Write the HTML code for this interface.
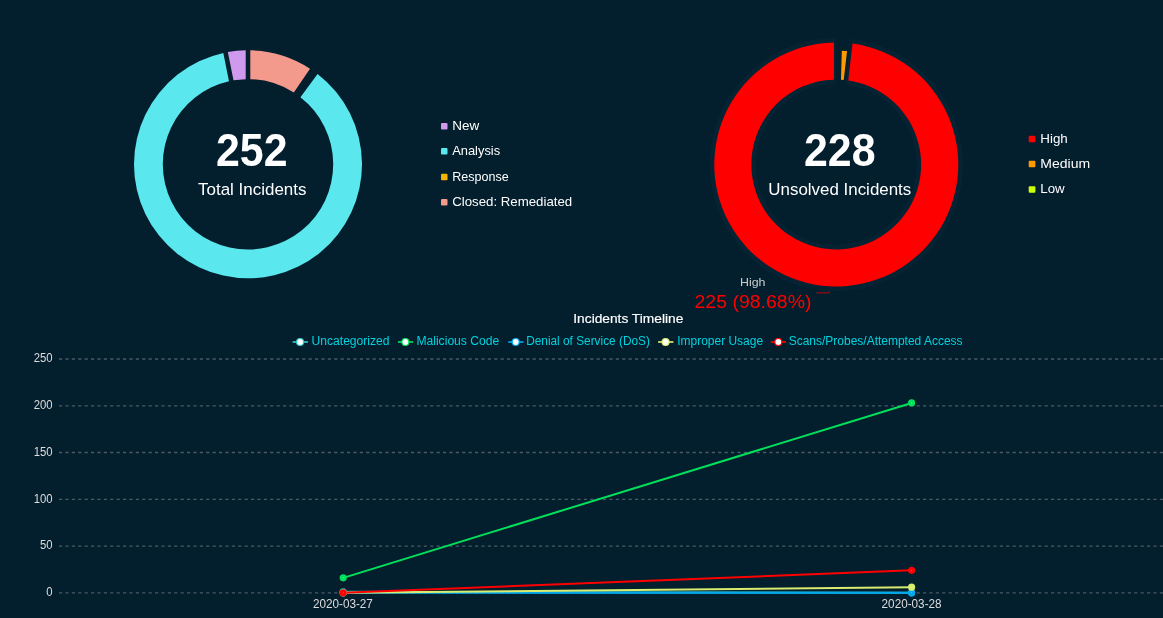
<!DOCTYPE html>
<html><head><meta charset="utf-8"><style>
html,body{margin:0;padding:0;background:#031e2d;width:1163px;height:618px;overflow:hidden}
svg{display:block;font-family:"Liberation Sans",sans-serif;will-change:transform}
</style></head><body>
<svg width="1163" height="618" viewBox="0 0 1163 618">
<rect width="1163" height="618" fill="#031e2d"/>
<path d="M227.82,52.10 A114.0,114.0 0 0 1 245.70,50.32 L245.70,79.13 A85.2,85.2 0 0 0 233.49,80.34 Z" fill="#cf9aee"/>
<path d="M250.30,50.32 A114.0,114.0 0 0 1 310.00,68.63 L293.84,92.49 A85.2,85.2 0 0 0 250.30,79.13 Z" fill="#f39a8d"/>
<path d="M317.57,73.99 A114.0,114.0 0 1 1 223.31,53.00 L228.98,81.25 A85.2,85.2 0 1 0 300.45,97.16 Z" fill="#5ae8ee"/>
<path d="M850.82,38.54 A126.8,126.8 0 1 1 836.25,37.70 L836.25,84.40 A80.10000000000001,80.10000000000001 0 1 0 845.46,84.93 Z" fill="#052333"/>
<path d="M852.55,43.59 A122.0,122.0 0 1 1 833.95,42.52 L833.95,79.63 A84.9,84.9 0 1 0 848.29,80.46 Z" fill="#ff0000"/>
<path d="M841.83,50.64 A114.0,114.0 0 0 1 847.07,51.01 L843.72,79.93 A84.9,84.9 0 0 0 840.99,79.73 Z" fill="#ff9900"/>
<line x1="59" y1="359.0" x2="1163" y2="359.0" stroke="#4a5a66" stroke-width="1.3" stroke-dasharray="3.2 3.2"/>
<line x1="59" y1="405.8" x2="1163" y2="405.8" stroke="#4a5a66" stroke-width="1.3" stroke-dasharray="3.2 3.2"/>
<line x1="59" y1="452.5" x2="1163" y2="452.5" stroke="#4a5a66" stroke-width="1.3" stroke-dasharray="3.2 3.2"/>
<line x1="59" y1="499.3" x2="1163" y2="499.3" stroke="#4a5a66" stroke-width="1.3" stroke-dasharray="3.2 3.2"/>
<line x1="59" y1="546.1" x2="1163" y2="546.1" stroke="#4a5a66" stroke-width="1.3" stroke-dasharray="3.2 3.2"/>
<line x1="59" y1="592.8" x2="1163" y2="592.8" stroke="#4a5a66" stroke-width="1.3" stroke-dasharray="3.2 3.2"/>
<line x1="343.2" y1="591.86" x2="911.6" y2="592.80" stroke="#2ec7c9" stroke-width="2"/>
<line x1="343.2" y1="577.84" x2="911.6" y2="402.95" stroke="#00e05a" stroke-width="2"/>
<line x1="343.2" y1="592.80" x2="911.6" y2="592.80" stroke="#00a8f0" stroke-width="2"/>
<line x1="343.2" y1="592.80" x2="911.6" y2="587.19" stroke="#d8ec70" stroke-width="2"/>
<line x1="343.2" y1="592.80" x2="911.6" y2="570.36" stroke="#ff0000" stroke-width="2"/>
<circle cx="343.2" cy="591.86" r="2.0" fill="#ffffff" stroke="#2ec7c9" stroke-width="3.2"/>
<circle cx="911.6" cy="592.80" r="2.0" fill="#ffffff" stroke="#2ec7c9" stroke-width="3.2"/>
<circle cx="343.2" cy="577.84" r="2.0" fill="#ffffff" stroke="#00e05a" stroke-width="3.2"/>
<circle cx="911.6" cy="402.95" r="2.0" fill="#ffffff" stroke="#00e05a" stroke-width="3.2"/>
<circle cx="343.2" cy="592.80" r="2.0" fill="#ffffff" stroke="#00a8f0" stroke-width="3.2"/>
<circle cx="911.6" cy="592.80" r="2.0" fill="#ffffff" stroke="#00a8f0" stroke-width="3.2"/>
<circle cx="343.2" cy="592.80" r="2.0" fill="#ffffff" stroke="#d8ec70" stroke-width="3.2"/>
<circle cx="911.6" cy="587.19" r="2.0" fill="#ffffff" stroke="#d8ec70" stroke-width="3.2"/>
<circle cx="343.2" cy="592.80" r="2.0" fill="#ffffff" stroke="#ff0000" stroke-width="3.2"/>
<circle cx="911.6" cy="570.36" r="2.0" fill="#ffffff" stroke="#ff0000" stroke-width="3.2"/>
<text x="216.0" y="165.9" font-size="46" fill="#ffffff" font-weight="bold" text-anchor="start" textLength="71.5" lengthAdjust="spacingAndGlyphs">252</text>
<text x="198.0" y="195.0" font-size="16.3" fill="#ffffff" font-weight="normal" text-anchor="start" textLength="108.5" lengthAdjust="spacingAndGlyphs">Total Incidents</text>
<text x="804.0" y="165.9" font-size="46" fill="#ffffff" font-weight="bold" text-anchor="start" textLength="71.5" lengthAdjust="spacingAndGlyphs">228</text>
<text x="768.3" y="195.0" font-size="16.3" fill="#ffffff" font-weight="normal" text-anchor="start" textLength="143" lengthAdjust="spacingAndGlyphs">Unsolved Incidents</text>
<rect x="441" y="123.0" width="6.5" height="6.5" rx="1" fill="#cf9aee"/>
<text x="452.2" y="129.9" font-size="13.5" fill="#ffffff" font-weight="normal" text-anchor="start" textLength="27" lengthAdjust="spacingAndGlyphs">New</text>
<rect x="441" y="148.1" width="6.5" height="6.5" rx="1" fill="#5ae8ee"/>
<text x="452.2" y="155.0" font-size="13.5" fill="#ffffff" font-weight="normal" text-anchor="start" textLength="48" lengthAdjust="spacingAndGlyphs">Analysis</text>
<rect x="441" y="173.7" width="6.5" height="6.5" rx="1" fill="#f5b400"/>
<text x="452.2" y="180.6" font-size="13.5" fill="#ffffff" font-weight="normal" text-anchor="start" textLength="56.5" lengthAdjust="spacingAndGlyphs">Response</text>
<rect x="441" y="199.0" width="6.5" height="6.5" rx="1" fill="#f39a8d"/>
<text x="452.2" y="205.9" font-size="13.5" fill="#ffffff" font-weight="normal" text-anchor="start" textLength="120" lengthAdjust="spacingAndGlyphs">Closed: Remediated</text>
<rect x="1028.7" y="135.7" width="6.7" height="6.5" rx="1" fill="#ff0000"/>
<text x="1040.3" y="142.6" font-size="13.5" fill="#ffffff" font-weight="normal" text-anchor="start" textLength="27.5" lengthAdjust="spacingAndGlyphs">High</text>
<rect x="1028.7" y="160.8" width="6.7" height="6.5" rx="1" fill="#ff9900"/>
<text x="1040.3" y="167.7" font-size="13.5" fill="#ffffff" font-weight="normal" text-anchor="start" textLength="49.8" lengthAdjust="spacingAndGlyphs">Medium</text>
<rect x="1028.7" y="186.3" width="6.7" height="6.5" rx="1" fill="#ccff00"/>
<text x="1040.3" y="193.2" font-size="13.5" fill="#ffffff" font-weight="normal" text-anchor="start" textLength="24.4" lengthAdjust="spacingAndGlyphs">Low</text>
<text x="740.0" y="285.9" font-size="11.5" fill="#cccccc" font-weight="normal" text-anchor="start" textLength="25.5" lengthAdjust="spacingAndGlyphs">High</text>
<text x="694.5" y="308.1" font-size="18" fill="#ff0000" font-weight="normal" text-anchor="start" textLength="117" lengthAdjust="spacingAndGlyphs">225 (98.68%)</text>
<polyline points="816.4,292.9 828.7,292.9 829.2,291.3" fill="none" stroke="#ff0000" stroke-width="1" opacity="0.7"/>
<text x="573.3" y="322.7" font-size="13.5" fill="#ffffff" font-weight="normal" text-anchor="start" textLength="110" lengthAdjust="spacingAndGlyphs" stroke="#ffffff" stroke-width="0.18">Incidents Timeline</text>
<line x1="292.6" y1="342" x2="307.90000000000003" y2="342" stroke="#2ec7c9" stroke-width="1.7"/>
<circle cx="300.1" cy="342" r="3.5" fill="#ffffff" stroke="#2ec7c9" stroke-width="1.2"/>
<text x="311.5" y="344.8" font-size="12" fill="#02d3de" font-weight="normal" text-anchor="start" textLength="78.1" lengthAdjust="spacingAndGlyphs">Uncategorized</text>
<line x1="397.90000000000003" y1="342" x2="413.20000000000005" y2="342" stroke="#00e05a" stroke-width="1.7"/>
<circle cx="405.40000000000003" cy="342" r="3.5" fill="#ffffff" stroke="#00e05a" stroke-width="1.2"/>
<text x="416.4" y="344.8" font-size="12" fill="#02d3de" font-weight="normal" text-anchor="start" textLength="82.9" lengthAdjust="spacingAndGlyphs">Malicious Code</text>
<line x1="508.2" y1="342" x2="523.5" y2="342" stroke="#00a8f0" stroke-width="1.7"/>
<circle cx="515.6999999999999" cy="342" r="3.5" fill="#ffffff" stroke="#00a8f0" stroke-width="1.2"/>
<text x="526.2" y="344.8" font-size="12" fill="#02d3de" font-weight="normal" text-anchor="start" textLength="123.7" lengthAdjust="spacingAndGlyphs">Denial of Service (DoS)</text>
<line x1="658.0999999999999" y1="342" x2="673.4" y2="342" stroke="#d8ec70" stroke-width="1.7"/>
<circle cx="665.5999999999999" cy="342" r="3.5" fill="#ffffff" stroke="#d8ec70" stroke-width="1.2"/>
<text x="677.2" y="344.8" font-size="12" fill="#02d3de" font-weight="normal" text-anchor="start" textLength="85.9" lengthAdjust="spacingAndGlyphs">Improper Usage</text>
<line x1="770.8" y1="342" x2="786.1" y2="342" stroke="#ff0000" stroke-width="1.7"/>
<circle cx="778.3" cy="342" r="3.5" fill="#ffffff" stroke="#ff0000" stroke-width="1.2"/>
<text x="788.7" y="344.8" font-size="12" fill="#02d3de" font-weight="normal" text-anchor="start" textLength="173.9" lengthAdjust="spacingAndGlyphs">Scans/Probes/Attempted Access</text>
<text x="52.6" y="362.2" font-size="12.5" fill="#dddddd" font-weight="normal" text-anchor="end" textLength="18.9" lengthAdjust="spacingAndGlyphs">250</text>
<text x="52.6" y="409.0" font-size="12.5" fill="#dddddd" font-weight="normal" text-anchor="end" textLength="18.9" lengthAdjust="spacingAndGlyphs">200</text>
<text x="52.6" y="455.7" font-size="12.5" fill="#dddddd" font-weight="normal" text-anchor="end" textLength="18.9" lengthAdjust="spacingAndGlyphs">150</text>
<text x="52.6" y="502.5" font-size="12.5" fill="#dddddd" font-weight="normal" text-anchor="end" textLength="18.9" lengthAdjust="spacingAndGlyphs">100</text>
<text x="52.6" y="549.3000000000001" font-size="12.5" fill="#dddddd" font-weight="normal" text-anchor="end" textLength="12.6" lengthAdjust="spacingAndGlyphs">50</text>
<text x="52.6" y="596.0" font-size="12.5" fill="#dddddd" font-weight="normal" text-anchor="end" textLength="6.3" lengthAdjust="spacingAndGlyphs">0</text>
<text x="342.9" y="607.9" font-size="12.5" fill="#dddddd" font-weight="normal" text-anchor="middle" textLength="60" lengthAdjust="spacingAndGlyphs">2020-03-27</text>
<text x="911.6" y="607.9" font-size="12.5" fill="#dddddd" font-weight="normal" text-anchor="middle" textLength="60" lengthAdjust="spacingAndGlyphs">2020-03-28</text>
</svg>
</body></html>
